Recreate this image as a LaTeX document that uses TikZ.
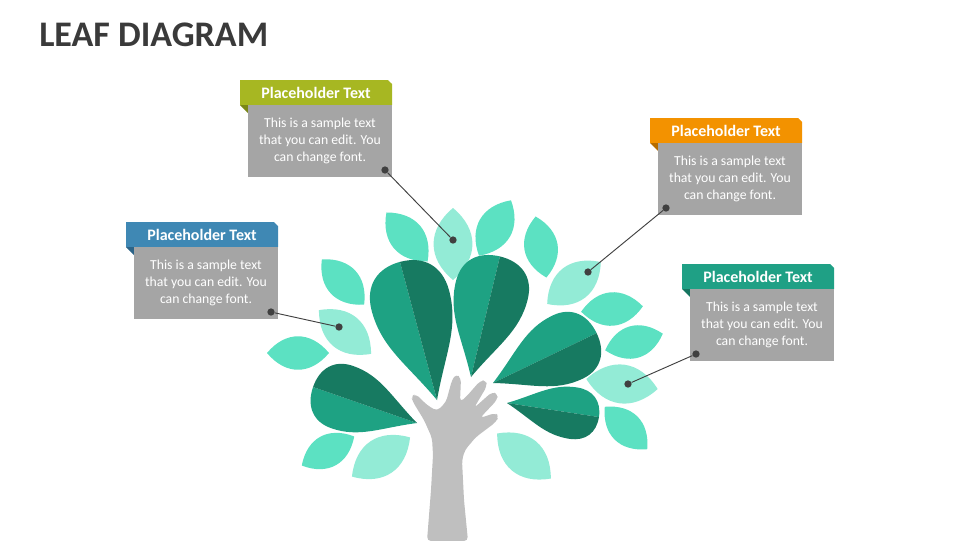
\documentclass[tikz,border=0pt]{standalone}
\usepackage{fontspec}
\setmainfont{Carlito}
\definecolor{lmed}{HTML}{5CE1C2}
\definecolor{llight}{HTML}{93EBD6}
\definecolor{bigl}{HTML}{1EA283}
\definecolor{bigd}{HTML}{177A61}
\definecolor{trunk}{HTML}{BFBFBF}
\definecolor{boxg}{HTML}{A5A5A5}
\definecolor{dotc}{HTML}{404040}
\definecolor{cgreen}{HTML}{A7B722}
\definecolor{cgreend}{HTML}{7A8718}
\definecolor{corange}{HTML}{F39200}
\definecolor{corangd}{HTML}{B56C00}
\definecolor{cblue}{HTML}{3F88B4}
\definecolor{cblued}{HTML}{2C6488}
\definecolor{cteal}{HTML}{1FA085}
\definecolor{cteald}{HTML}{167560}
\tikzset{
 hdr/.style={font=\bfseries\fontsize{12}{14}\selectfont,text=white,inner sep=0},
 body/.style={font=\fontsize{10.3}{12.75}\selectfont,text=white,align=center,inner sep=0},
 dotn/.style={circle,fill=dotc,inner sep=0,minimum size=5.5pt},
 conn/.style={draw=dotc,line width=0.7pt}
}
\newcommand{\smleaf}[5]{% x y angle color length
 \fill[#4,shift={(#1,#2)},rotate=-#3] (-#5/2,0) .. controls (-#5/5,#5*0.36) and (#5/5,#5*0.36) .. (#5/2,0) .. controls (#5/5,-#5*0.36) and (-#5/5,-#5*0.36) .. (-#5/2,0);}
\newcommand{\bigleaf}[5]{% tipx tipy angle L W
 \begin{scope}[shift={(#1,#2)},rotate=-#3]
 \fill[bigl] (0,0) .. controls (0.3*#4,-0.25*#5) and (0.45*#4,-0.5*#5) .. (0.72*#4,-0.5*#5) .. controls (0.9*#4,-0.5*#5) and (#4,-0.3*#5) .. (#4,0) -- cycle;
 \fill[bigd] (0,0) .. controls (0.3*#4,0.25*#5) and (0.45*#4,0.5*#5) .. (0.72*#4,0.5*#5) .. controls (0.9*#4,0.5*#5) and (#4,0.3*#5) .. (#4,0) -- cycle;
 \end{scope}}
\newcommand{\callout}[6]{% x y col dark name dotx-offset
 \fill[#3] (#1,#2) -- ({#1+148},#2) -- ({#1+152},{#2+4}) -- ({#1+152},{#2+25}) -- (#1,{#2+25}) -- cycle;
 \fill[#4] (#1,{#2+25}) -- ({#1+8},{#2+25}) -- ({#1+8},{#2+33}) -- cycle;
 \fill[boxg] ({#1+8},{#2+25}) rectangle ({#1+152},{#2+97});
 \node[hdr] (#5h) at ({#1+76},{#2+12.5}) {Placeholder Text};
 \node[body] (#5b) at ({#1+80},{#2+61}) {This is a sample text\\that you can edit. You\\can change font.};
 \node[dotn] (#5d) at ({#1+#6},{#2+90}) {};}
\begin{document}
\begin{tikzpicture}[x=0.75pt,y=-0.75pt]
\useasboundingbox (0,0) rectangle (960,540);
\node[anchor=west,font=\bfseries\fontsize{27}{30}\selectfont,text=dotc!90!black,inner sep=0] (title) at (39,35) {LEAF DIAGRAM};
% trunk / hand
\fill[trunk,rounded corners=3] (427,541) -- (431,490) -- (433,455) -- (432,438) -- (424,420) -- (413,402) -- (411,396) -- (416,394) -- (427,405) -- (437,411) -- (446,402) -- (452,380) -- (456,374) -- (461,378) -- (460,402) -- (466,397) -- (480,381) -- (486,380) -- (487,386) -- (474,408) -- (492,392) -- (498,394) -- (497,400) -- (480,418) -- (495,413) -- (499,416) -- (496,422) -- (476,437) -- (465,450) -- (462,460) -- (464,500) -- (468,541) -- cycle;
% small leaves
\smleaf{453}{244}{90}{llight}{72}
\smleaf{407}{237}{50}{lmed}{64}
\smleaf{495}{228}{-60}{lmed}{64}
\smleaf{541}{247}{80}{lmed}{62}
\smleaf{574}{283}{-38}{llight}{68}
\smleaf{612}{309}{-5}{lmed}{62}
\smleaf{634}{342}{-16}{lmed}{60}
\smleaf{622}{384}{8}{llight}{72}
\smleaf{626}{428}{45}{lmed}{60}
\smleaf{524}{456}{40}{llight}{70}
\smleaf{343}{282}{47}{lmed}{62}
\smleaf{345}{332}{40}{llight}{68}
\smleaf{298}{353}{0}{lmed}{62}
\smleaf{328}{451}{-29}{lmed}{60}
\smleaf{381}{457}{-34}{llight}{70}
% big leaves
\bigleaf{437}{400}{-105}{143}{80}
\bigleaf{471}{377}{-76.5}{124}{74}
\bigleaf{493}{383}{-25.7}{115}{70}
\bigleaf{507}{403}{8.7}{93}{52}
\bigleaf{417}{423}{-160.9}{110}{66}
% callouts
\callout{240}{80}{cgreen}{cgreend}{c1}{145}
\callout{650}{118}{corange}{corangd}{c2}{16}
\callout{126}{222}{cblue}{cblued}{c3}{145}
\callout{682}{264}{cteal}{cteald}{c4}{14}
\node[dotn] (l1) at (453,240) {};
\node[dotn] (l2) at (588,272) {};
\node[dotn] (l3) at (339,327) {};
\node[dotn] (l4) at (628,384) {};
\draw[conn] (c1d) -- (l1);
\draw[conn] (c2d) -- (l2);
\draw[conn] (c3d) -- (l3);
\draw[conn] (c4d) -- (l4);
\end{tikzpicture}
\end{document}
